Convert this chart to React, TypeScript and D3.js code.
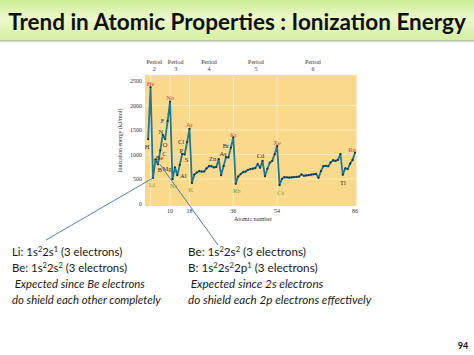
import React from "react";
import * as d3 from "d3";

// First ionization energies (kJ/mol), Z = 1..86
const ionizationEnergy = [
  1312, 2372, 520, 899, 801, 1086, 1402, 1314, 1681, 2081,
  496, 738, 578, 787, 1012, 1000, 1251, 1521, 419, 590,
  633, 659, 651, 653, 717, 762, 760, 737, 746, 906,
  579, 762, 947, 941, 1140, 1351, 403, 550, 600, 640,
  652, 684, 702, 710, 720, 804, 731, 868, 558, 709,
  834, 869, 1008, 1170, 376, 503, 538, 534, 527, 533,
  540, 545, 547, 593, 566, 573, 581, 589, 597, 603,
  524, 659, 761, 770, 760, 840, 880, 870, 890, 1007,
  589, 716, 703, 812, 890, 1037,
];

const xTicks = [10, 18, 36, 54, 86];
const yTicks = [0, 500, 1000, 1500, 2000, 2500];
const periodBoundaries = [2, 10, 18, 36, 54];
const periodNumbers = ["2", "3", "4", "5", "6"];
const periodLabelZ = [3.5, 12.3, 26, 45.3, 68.7];

// element labels: atomic number, symbol, group (n = noble gas, a = alkali, o = other)
const labelZ = [1, 2, 3, 4, 5, 6, 7, 8, 9, 10, 11, 12, 13, 15, 16, 17, 18, 19, 30, 33, 35, 36, 37, 48, 54, 55, 81, 86];
const labelSymbol = ["H", "He", "Li", "Be", "B", "C", "N", "O", "F", "Ne", "Na", "Mg", "Al", "P", "S", "Cl", "Ar", "K", "Zn", "As", "Br", "Kr", "Rb", "Cd", "Xe", "Cs", "Tl", "Rn"];
const labelGroup = ["o", "n", "a", "o", "o", "o", "o", "o", "o", "n", "a", "o", "o", "o", "o", "o", "n", "a", "o", "o", "o", "n", "a", "o", "n", "a", "o", "n"];

// label placement offsets (px) relative to the point
const labelOffsets: Record<string, [number, number]> = {
  H: [-1, 8], He: [0, -4], Li: [-1, 7], Be: [4, -2], B: [2, 5], C: [4, 3],
  N: [-2, -3], O: [0, 6], F: [-5, 0], Ne: [0, -4], Na: [1, 7], Mg: [-8, 1],
  Al: [6, 1], P: [-1, -3], S: [2, 5], Cl: [-6, 0], Ar: [0, -4], K: [-1, 7],
  Zn: [-6, 0], As: [-3, -3], Br: [-5, -2], Kr: [0, -3], Rb: [1, 7],
  Cd: [-2, -5], Xe: [0, -3], Cs: [1, 8], Tl: [0, 8], Rn: [-3, -3],
};

const groupColor: Record<string, string> = { n: "#d2424a", a: "#6fa23a", o: "#3b2a18" };

type Seg = { t: string; sup?: boolean };
const leftLines: Seg[][] = [
  [{ t: "Li: 1s" }, { t: "2", sup: true }, { t: "2s" }, { t: "1", sup: true }, { t: " (3 electrons)" }],
  [{ t: "Be: 1s" }, { t: "2", sup: true }, { t: "2s" }, { t: "2", sup: true }, { t: " (3 electrons)" }],
  [{ t: " Expected since Be electrons" }],
  [{ t: "do shield each other completely" }],
];
const rightLines: Seg[][] = [
  [{ t: "Be: 1s" }, { t: "2", sup: true }, { t: "2s" }, { t: "2", sup: true }, { t: " (3 electrons)" }],
  [{ t: "B: 1s" }, { t: "2", sup: true }, { t: "2s" }, { t: "2", sup: true }, { t: "2p" }, { t: "1", sup: true }, { t: " (3 electrons)" }],
  [{ t: " Expected since 2s electrons" }],
  [{ t: "do shield each 2p electrons effectively" }],
];

const W = 474;
const H = 355;

export default function App() {
  const x = d3.scaleLinear().domain([0, 86]).range([145.7, 355]);
  const y = d3.scaleLinear().domain([0, 2500]).range([203.5, 81]);
  const plotTop = 75;
  const plotBottom = 206;
  const plotLeft = 145;
  const plotRight = 356.5;

  const pts = ionizationEnergy.map((v, i) => [x(i + 1), y(v)] as [number, number]);
  const line = d3.line()(pts) || "";

  const serif = "'Liberation Serif', 'DejaVu Serif', serif";
  const sans = "Lato, 'Open Sans', sans-serif";

  const renderLines = (lines: Seg[][], x0: number, y0: number, dy: number, fs: number) =>
    lines.map((segs, li) => (
      <text
        key={li}
        x={x0}
        y={y0 + li * dy}
        fontFamily={sans}
        fontSize={fs}
        fill="#1a1a1a"
        fontStyle={li >= 2 ? "italic" : "normal"}
        xmlSpace="preserve"
        style={{ whiteSpace: "pre" }}
      >
        {segs.map((s, si) =>
          s.sup ? (
            <tspan key={si} fontSize={fs * 0.65} dy={-4}>{s.t}</tspan>
          ) : (
            <tspan key={si} dy={si > 0 && segs[si - 1].sup ? 4 : 0}>{s.t}</tspan>
          )
        )}
      </text>
    ));

  const liPt = pts[2];
  const bPt = pts[4];

  return (
    <svg width={W} height={H} style={{ position: "absolute", left: 0, top: 0, background: "#fff" }}>
      <defs>
        <linearGradient id="titleGrad" x1="0" y1="0" x2="0" y2="1">
          <stop offset="0%" stopColor="#cfec95" />
          <stop offset="45%" stopColor="#ebf8cc" />
          <stop offset="100%" stopColor="#d5efa2" />
        </linearGradient>
        <linearGradient id="shadowGrad" x1="0" y1="0" x2="0" y2="1">
          <stop offset="0%" stopColor="#8a9a78" stopOpacity={0.8} />
          <stop offset="100%" stopColor="#ffffff" stopOpacity={0} />
        </linearGradient>
      </defs>

      {/* title bar */}
      <rect x={0} y={0} width={W} height={40} fill="url(#titleGrad)" />
      <rect x={0} y={40} width={W} height={4} fill="url(#shadowGrad)" />
      <text x={237} y={29.5} textAnchor="middle" fontFamily={sans} fontWeight={700} fontSize={22.5} fill="#111">
        Trend in Atomic Properties : Ionization Energy
      </text>

      {/* plot background */}
      <rect x={plotLeft} y={plotTop} width={plotRight - plotLeft} height={plotBottom - plotTop} fill="#f9d98c" />
      {yTicks.filter((t) => t > 0 && t < 2500).map((t) => (
        <line key={t} x1={plotLeft} x2={plotRight} y1={y(t)} y2={y(t)} stroke="#fcebbd" strokeWidth={1} />
      ))}
      {periodBoundaries.map((z) => (
        <line key={z} x1={x(z)} x2={x(z)} y1={plotTop} y2={plotBottom} stroke="#fcebbd" strokeWidth={1} />
      ))}

      {/* y ticks */}
      {yTicks.map((t) => (
        <text key={t} x={142} y={y(t) + 2} textAnchor="end" fontFamily={serif} fontSize={6} fill="#333">
          {t}
        </text>
      ))}
      <text
        transform={`translate(122,${(plotTop + plotBottom) / 2}) rotate(-90)`}
        textAnchor="middle"
        fontFamily={serif}
        fontSize={6}
        fill="#333"
      >
        Ionization energy (kJ/mol)
      </text>

      {/* x ticks */}
      {xTicks.map((t) => (
        <text key={t} x={x(t)} y={213} textAnchor="middle" fontFamily={serif} fontSize={6} fill="#333">
          {t}
        </text>
      ))}
      <text x={253} y={221} textAnchor="middle" fontFamily={serif} fontSize={6} fill="#333">
        Atomic number
      </text>

      {/* period labels */}
      {periodNumbers.map((p, i) => (
        <g key={p}>
          <text x={x(periodLabelZ[i])} y={64} textAnchor="middle" fontFamily={serif} fontSize={6} fill="#333">
            Period
          </text>
          <text x={x(periodLabelZ[i])} y={71} textAnchor="middle" fontFamily={serif} fontSize={6} fill="#333">
            {p}
          </text>
        </g>
      ))}

      {/* data line */}
      <path d={line} fill="none" stroke="#1e7a96" strokeWidth={1.8} strokeLinejoin="round" />
      {pts.map((p, i) => (
        <circle key={i} cx={p[0]} cy={p[1]} r={1.1} fill="#16364f" />
      ))}

      {/* element labels */}
      {labelZ.map((z, i) => {
        const off = labelOffsets[labelSymbol[i]];
        return (
          <text
            key={labelSymbol[i]}
            x={x(z) + off[0]}
            y={y(ionizationEnergy[z - 1]) + off[1]}
            dy="0.35em"
            textAnchor="middle"
            fontFamily={serif}
            fontSize={6.5}
            fill={groupColor[labelGroup[i]]}
          >
            {labelSymbol[i]}
          </text>
        );
      })}

      {/* annotation lines */}
      <line x1={liPt[0]} y1={liPt[1]} x2={46} y2={240} stroke="#5b7fa6" strokeWidth={1} />
      <line x1={bPt[0] + 2} y1={bPt[1]} x2={218} y2={245} stroke="#5b7fa6" strokeWidth={1} />

      {/* explanation text */}
      {renderLines(leftLines, 12, 256, 16, 11.4)}
      {renderLines(rightLines, 188, 256, 16, 11.7)}

      <text x={463} y={349} textAnchor="middle" fontFamily={sans} fontWeight={700} fontSize={9} fill="#111">
        94
      </text>
    </svg>
  );
}
